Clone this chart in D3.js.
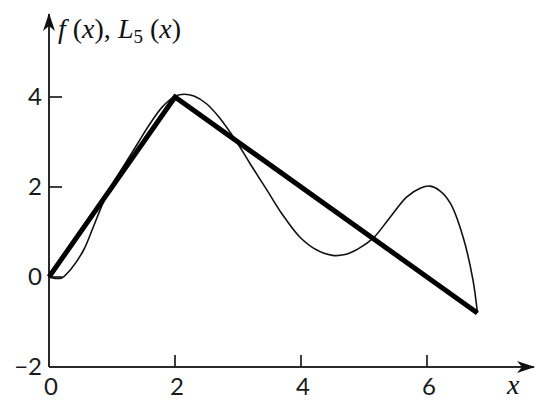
<!DOCTYPE html>
<html>
<head>
<meta charset="utf-8">
<script src="https://cdn.jsdelivr.net/npm/d3@7"></script>
<style>
    body { margin: 0; background: #fff; }
    svg { display: block; }
</style>
</head>
<body>
<div id="chart"></div>
<script>
// piecewise linear f(x)
const fX = [0, 2, 6.8];
const fY = [0, 4, -0.8];

// thin curve L5(x)
const lX = [0, 0.1, 0.2, 0.35, 0.55, 0.7, 0.85, 1.0, 1.2, 1.4, 1.6, 1.8, 2.0, 2.15, 2.3, 2.5, 2.7, 2.98, 3.2, 3.46, 3.7, 3.98, 4.25, 4.5, 4.7, 4.9, 5.15, 5.4, 5.68, 5.9, 6.05, 6.2, 6.37, 6.57, 6.73, 6.8];
const lY = [0, -0.03, -0.02, 0.18, 0.6, 1.1, 1.62, 2.05, 2.5, 2.95, 3.4, 3.78, 4.02, 4.06, 4.02, 3.85, 3.55, 3.0, 2.5, 1.93, 1.4, 0.89, 0.6, 0.48, 0.5, 0.62, 0.87, 1.3, 1.78, 1.98, 2.02, 1.92, 1.64, 0.9, -0.07, -0.8];

// ticks
const xTicks = [2, 4, 6];
const xTickLabels = ['0', '2', '4', '6'];
const xLabelPos = [0, 2, 4, 6];
const yTicks = [4, 2, 0, -2];
const yTickLabels = ['4', '2', '0', '\u22122'];

const width = 550;
const height = 417;

const xScale = d3.scaleLinear().domain([0, 6]).range([49, 427]);
const yScale = d3.scaleLinear().domain([-2, 4]).range([367, 97]);

const svg = d3.select('#chart')
    .append('svg')
        .attr('width', width)
        .attr('height', height);

const axisColor = '#2a2a2a';

// arrow heads
const defs = svg.append('defs');
defs.append('marker')
    .attr('id', 'arrow')
    .attr('viewBox', '0 0 18 12')
    .attr('refX', 17)
    .attr('refY', 6)
    .attr('markerWidth', 18)
    .attr('markerHeight', 12)
    .attr('markerUnits', 'userSpaceOnUse')
    .attr('orient', 'auto')
    .append('path')
        .attr('d', 'M0,0 L18,6 L0,12 L5,6 Z')
        .attr('fill', '#111');

// x axis line
svg.append('line')
    .attr('x1', xScale(0)).attr('y1', yScale(-2))
    .attr('x2', 534).attr('y2', yScale(-2))
    .attr('stroke', axisColor)
    .attr('stroke-width', 2)
    .attr('marker-end', 'url(#arrow)');

// y axis line
svg.append('line')
    .attr('x1', xScale(0)).attr('y1', yScale(-2))
    .attr('x2', xScale(0)).attr('y2', 14)
    .attr('stroke', axisColor)
    .attr('stroke-width', 2)
    .attr('marker-end', 'url(#arrow)');

// y ticks (pointing right, inside)
svg.selectAll('.ytick')
    .data(yTicks)
    .enter()
        .append('line')
            .attr('class', 'ytick')
            .attr('x1', xScale(0))
            .attr('x2', xScale(0) + 13)
            .attr('y1', d => yScale(d))
            .attr('y2', d => yScale(d))
            .attr('stroke', axisColor)
            .attr('stroke-width', 1.8);

// x ticks (pointing up)
svg.selectAll('.xtick')
    .data(xTicks)
    .enter()
        .append('line')
            .attr('class', 'xtick')
            .attr('x1', d => xScale(d))
            .attr('x2', d => xScale(d))
            .attr('y1', yScale(-2))
            .attr('y2', yScale(-2) - 12)
            .attr('stroke', axisColor)
            .attr('stroke-width', 1.8);

// tick labels
svg.selectAll('.ylabel')
    .data(yTicks)
    .enter()
        .append('text')
            .attr('class', 'ylabel')
            .attr('x', 42)
            .attr('y', d => yScale(d) + 8)
            .attr('text-anchor', 'end')
            .attr('font-family', 'Lato, "Open Sans", sans-serif')
            .attr('font-size', 24)
            .attr('fill', '#1a1a1a')
            .text((d, i) => yTickLabels[i]);

svg.selectAll('.xlabel')
    .data(xLabelPos)
    .enter()
        .append('text')
            .attr('class', 'xlabel')
            .attr('x', d => xScale(d) + 2)
            .attr('y', 395)
            .attr('text-anchor', 'middle')
            .attr('font-family', 'Lato, "Open Sans", sans-serif')
            .attr('font-size', 24)
            .attr('fill', '#1a1a1a')
            .text((d, i) => xTickLabels[i]);

// axis titles
const title = svg.append('text')
    .attr('x', 58)
    .attr('y', 38)
    .attr('font-family', '"Liberation Serif", "DejaVu Serif", serif')
    .attr('font-size', 28)
    .attr('fill', '#111');
title.append('tspan').attr('font-style', 'italic').text('f');
title.append('tspan').text(' (');
title.append('tspan').attr('font-style', 'italic').text('x');
title.append('tspan').text('), ');
title.append('tspan').attr('font-style', 'italic').text('L');
title.append('tspan').attr('font-size', 19).attr('dy', 5).text('5');
title.append('tspan').attr('dy', -5).text(' (');
title.append('tspan').attr('font-style', 'italic').text('x');
title.append('tspan').text(')');

svg.append('text')
    .attr('x', 507)
    .attr('y', 394)
    .attr('font-family', '"Liberation Serif", "DejaVu Serif", serif')
    .attr('font-style', 'italic')
    .attr('font-size', 28)
    .attr('fill', '#111')
    .text('x');

// the curves
const lData = lX.map((x, i) => ({x: x, y: lY[i]}));
const fData = fX.map((x, i) => ({x: x, y: fY[i]}));

const smooth = d3.line()
    .x(d => xScale(d.x))
    .y(d => yScale(d.y))
    .curve(d3.curveCatmullRom.alpha(0.5));

const straight = d3.line()
    .x(d => xScale(d.x))
    .y(d => yScale(d.y));

svg.append('path')
    .datum(lData)
    .attr('d', smooth)
    .attr('fill', 'none')
    .attr('stroke', '#111')
    .attr('stroke-width', 1.6);

svg.append('path')
    .datum(fData)
    .attr('d', straight)
    .attr('fill', 'none')
    .attr('stroke', '#000')
    .attr('stroke-width', 5)
    .attr('stroke-linejoin', 'miter');
</script>
</body>
</html>
